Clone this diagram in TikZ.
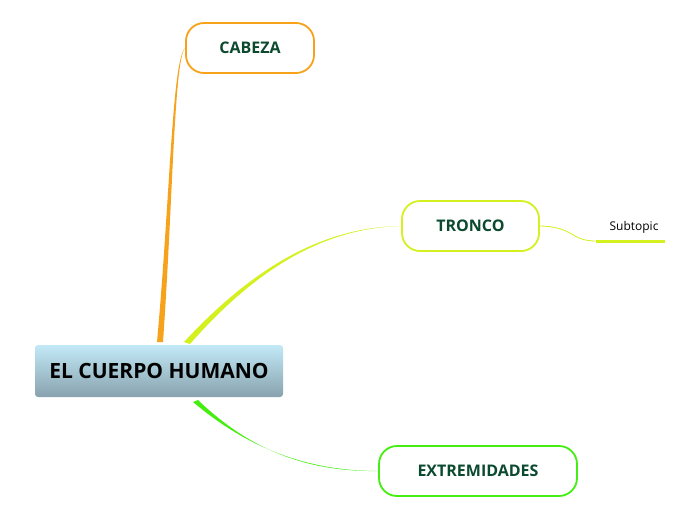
\documentclass[tikz,border=0pt]{standalone}
\usepackage{fontspec}
\setmainfont{Open Sans}
\begin{document}
\begin{tikzpicture}[x=1pt,y=-1pt,
  topic/.style={draw,line width=1.8pt,rounded corners=18pt,fill=white,minimum height=50pt,font=\bfseries\fontsize{16}{18}\selectfont,text=textgreen,inner sep=0pt},
  branch/.style={line cap=round}]
\definecolor{textgreen}{HTML}{0B4A2E}
\definecolor{corange}{HTML}{F7A21B}
\definecolor{cyellow}{HTML}{D4F01E}
\definecolor{cgreen}{HTML}{44EE11}
\definecolor{ctop}{HTML}{C2E9F7}
\definecolor{cbot}{HTML}{88A2AE}
\useasboundingbox (0,0) rectangle (696,520);
\node[topic,draw=corange,minimum width=128pt] (cab) at (250,48) {CABEZA};
\node[topic,draw=cyellow,minimum width=137pt] (tro) at (470.5,226) {TRONCO};
\node[topic,draw=cgreen,minimum width=198pt] (ext) at (478,471) {EXTREMIDADES};
\node[font=\fontsize{12}{14}\selectfont,inner sep=0pt] (sub) at (634,227) {Subtopic};
\coordinate (sl) at (596,241);
\coordinate (sr) at (665,241);
\draw[cyellow,line width=3pt] (sl) -- (sr);
\draw[cyellow,line width=0.8pt] (tro.east) .. controls (575,227) and (570,241) .. (sl);
% branches
\fill[corange] (157,342) .. controls (170,200) and (172,60) .. (cab.west) .. controls (174,60) and (173,200) .. (163,342) -- cycle;
\fill[cyellow] (184,342) .. controls (260,260) and (330,227) .. (tro.west) .. controls (330,228) and (262,262) .. (190,344) -- cycle;
\fill[cgreen] (193,402) .. controls (250,450) and (310,471) .. (ext.west) .. controls (310,472) and (252,452) .. (198,400) -- cycle;
\node[rounded corners=3pt,top color=ctop,bottom color=cbot,minimum width=248pt,minimum height=52pt,font=\bfseries\fontsize{21}{24}\selectfont,text=black,inner sep=0pt] (main) at (159,371) {EL CUERPO HUMANO};
\end{tikzpicture}
\end{document}
